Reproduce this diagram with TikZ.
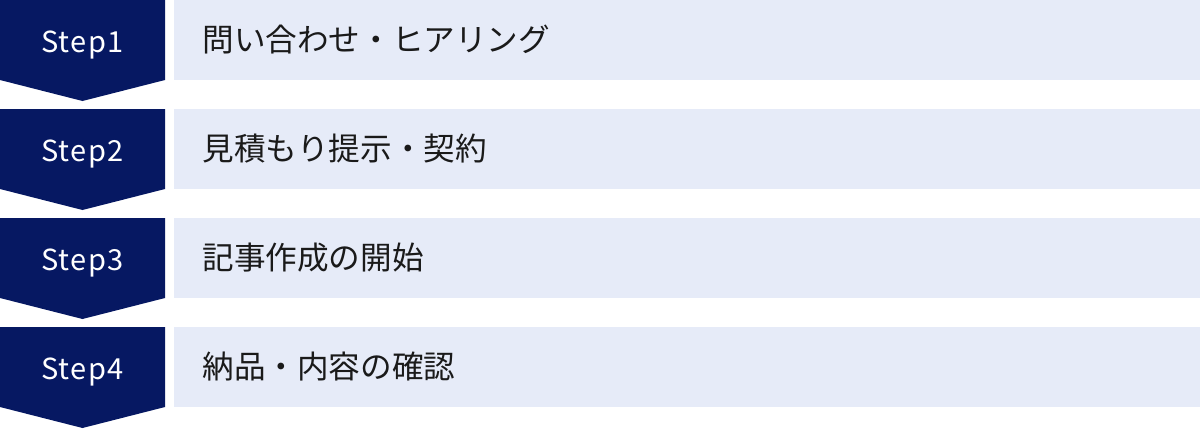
\documentclass[tikz,border=0pt]{standalone}
\usepackage{fontspec}
\setmainfont{Noto Sans CJK JP}
\usetikzlibrary{positioning}
\definecolor{stepnavy}{HTML}{061862}
\definecolor{boxblue}{HTML}{E6EBF8}
\definecolor{txtdark}{HTML}{1A1A1A}

\begin{document}
\begin{tikzpicture}
	[
	x=0.5pt, y=-0.5pt,
	stepshape/.style={fill=stepnavy,draw=none},
	steplabel/.style={text=white,font=\fontsize{14.5}{17}\selectfont\addfontfeatures{LetterSpace=5},inner sep=0pt,anchor=base},
	barbox/.style={fill=boxblue,draw=none,minimum width=513pt,minimum height=40pt,inner sep=0pt,anchor=north west},
	bartext/.style={text=txtdark,font=\fontsize{15.8}{18}\selectfont,inner sep=0pt,anchor=base west}
	]
		\useasboundingbox (0,0) rectangle (1200,429);
		
		% rows
		\foreach \i/\txt in {1/問い合わせ・ヒアリング,2/見積もり提示・契約,3/記事作成の開始,4/納品・内容の確認}
		{
			\pgfmathsetmacro{\rowtop}{(\i-1)*109}
			% arrow block
			\fill[stepshape] (0,\rowtop) -- (165,\rowtop) -- (165,\rowtop+80) -- (82.5,\rowtop+101) -- (0,\rowtop+80) -- cycle;
			\node[steplabel] (step\i) at (82.5,\rowtop+52) {Step\i};
			% bar
			\node[barbox] (box\i) at (174,\rowtop) {};
			\node[bartext] (item\i) at (202,\rowtop+51) {\txt};
		}
		
	\end{tikzpicture}
\end{document}
